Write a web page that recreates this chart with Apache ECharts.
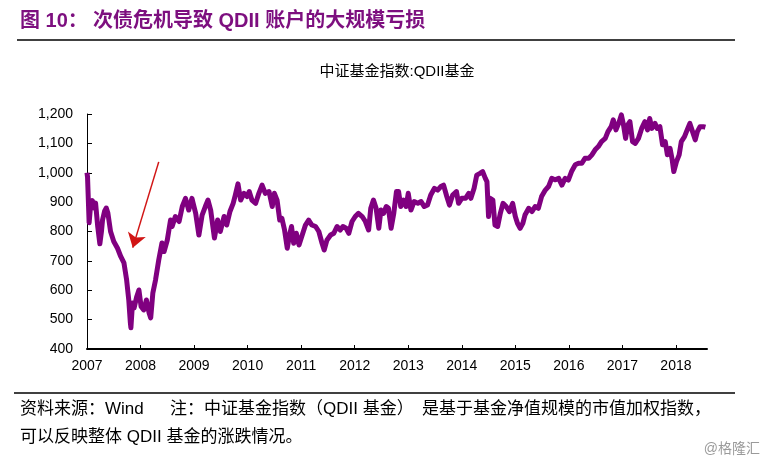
<!DOCTYPE html>
<html>
<head>
<meta charset="utf-8">
<script src="https://cdn.jsdelivr.net/npm/echarts@6/dist/echarts.min.js"></script>
<style>
  html, body { margin: 0; padding: 0; background: #fff; }
  #chart { width: 767px; height: 463px; }
</style>
</head>
<body>
<div id="chart"></div>
<script>
// 时间（年份小数）
var years = [
  2007.00, 2007.01, 2007.04, 2007.07, 2007.10, 2007.13, 2007.16, 2007.20, 2007.24, 2007.27,
  2007.29, 2007.33, 2007.36, 2007.39, 2007.44, 2007.50, 2007.57, 2007.63, 2007.69, 2007.74,
  2007.78, 2007.81, 2007.82, 2007.85, 2007.88, 2007.93, 2007.97, 2008.01, 2008.06, 2008.11,
  2008.16, 2008.19, 2008.23, 2008.28, 2008.34, 2008.40, 2008.44, 2008.50, 2008.56, 2008.59,
  2008.65, 2008.72, 2008.78, 2008.84, 2008.90, 2008.96, 2009.03, 2009.09, 2009.15, 2009.21,
  2009.26, 2009.31, 2009.38, 2009.44, 2009.49, 2009.56, 2009.61, 2009.67, 2009.73, 2009.77,
  2009.82, 2009.87, 2009.93, 2009.99, 2010.03, 2010.08, 2010.15, 2010.21, 2010.27, 2010.33,
  2010.40, 2010.46, 2010.50, 2010.55, 2010.60, 2010.64, 2010.69, 2010.74, 2010.79, 2010.82,
  2010.86, 2010.91, 2010.96, 2011.02, 2011.08, 2011.14, 2011.20, 2011.27, 2011.33, 2011.39,
  2011.43, 2011.48, 2011.55, 2011.61, 2011.67, 2011.73, 2011.78, 2011.84, 2011.89, 2011.95,
  2012.01, 2012.07, 2012.14, 2012.20, 2012.26, 2012.30, 2012.35, 2012.40, 2012.45, 2012.49,
  2012.54, 2012.59, 2012.63, 2012.68, 2012.73, 2012.78, 2012.82, 2012.86, 2012.91, 2012.96,
  2013.00, 2013.05, 2013.11, 2013.18, 2013.24, 2013.30, 2013.36, 2013.42, 2013.49, 2013.55,
  2013.61, 2013.66, 2013.72, 2013.77, 2013.83, 2013.90, 2013.94, 2014.00, 2014.07, 2014.13,
  2014.17, 2014.23, 2014.28, 2014.34, 2014.39, 2014.44, 2014.47, 2014.50, 2014.53, 2014.58,
  2014.62, 2014.67, 2014.72, 2014.77, 2014.83, 2014.89, 2014.95, 2015.00, 2015.04, 2015.09,
  2015.14, 2015.18, 2015.25, 2015.31, 2015.37, 2015.43, 2015.49, 2015.56, 2015.62, 2015.68,
  2015.74, 2015.81, 2015.87, 2015.93, 2015.99, 2016.05, 2016.12, 2016.18, 2016.24, 2016.30,
  2016.37, 2016.43, 2016.49, 2016.55, 2016.61, 2016.68, 2016.73, 2016.79, 2016.83, 2016.88,
  2016.93, 2016.98, 2017.02, 2017.06, 2017.10, 2017.14, 2017.19, 2017.24, 2017.30, 2017.36,
  2017.42, 2017.47, 2017.51, 2017.55, 2017.61, 2017.65, 2017.70, 2017.75, 2017.80, 2017.84,
  2017.89, 2017.93, 2017.96, 2018.01, 2018.06, 2018.10, 2018.16, 2018.21, 2018.26, 2018.31,
  2018.36, 2018.40, 2018.45, 2018.51, 2018.55
];
// 中证基金指数:QDII基金
var qdiiIndex = [
  1000, 985, 830, 895, 905, 880, 897, 817, 758, 800,
  839, 870, 880, 863, 800, 766, 743, 715, 693, 635,
  567, 489, 472, 557, 540, 579, 601, 545, 533, 567,
  523, 506, 591, 635, 703, 761, 732, 771, 839, 817,
  851, 834, 885, 913, 873, 913, 862, 788, 856, 885,
  907, 873, 778, 839, 800, 851, 822, 868, 896, 924,
  962, 907, 930, 919, 936, 907, 896, 930, 958, 930,
  936, 885, 930, 907, 839, 845, 805, 743, 794, 817,
  760, 794, 754, 788, 822, 839, 822, 817, 800, 760,
  737, 770, 788, 794, 817, 805, 817, 811, 794, 834,
  851, 862, 851, 834, 805, 879, 907, 879, 811, 873,
  862, 885, 879, 811, 862, 936, 936, 885, 907, 885,
  930, 873, 902, 896, 902, 885, 890, 924, 947, 941,
  953, 958, 919, 890, 924, 936, 896, 913, 913, 930,
  913, 947, 992, 998, 1004, 981, 970, 851, 913, 907,
  822, 817, 862, 896, 885, 868, 896, 851, 828, 811,
  828, 856, 879, 868, 885, 879, 919, 941, 953, 981,
  976, 981, 958, 981, 975, 1004, 1027, 1032, 1032, 1049,
  1049, 1061, 1078, 1089, 1106, 1117, 1140, 1157, 1180, 1146,
  1168, 1197, 1163, 1117, 1163, 1174, 1106, 1100, 1117, 1151,
  1174, 1146, 1185, 1151, 1168, 1151, 1157, 1095, 1106, 1061,
  1083, 1044, 1004, 1038, 1061, 1106, 1123, 1146, 1168, 1140,
  1112, 1140, 1157, 1157, 1155
];
var yearTicks = [2007, 2008, 2009, 2010, 2011, 2012, 2013, 2014, 2015, 2016, 2017, 2018];
// 红色箭头：起点、终点
var arrowFrom = [2008.34, 1037];
var arrowTo = [2007.855, 745];

var seriesData = years.map(function(y, i) {
  return [y, qdiiIndex[i]];
});

var latinCjk = "'Liberation Sans', Arial, 'Noto Sans CJK SC', sans-serif";

var chart = echarts.init(document.getElementById("chart"));
chart.setOption({
  animation: false,
  backgroundColor: "#fff",
  grid: {
    left: 87,
    right: 60,
    top: 114,
    bottom: 114
  },
  xAxis: {
    type: "value",
    min: 2007,
    max: 2018.58,
    interval: 1,
    axisLine: {
      show: true,
      lineStyle: { color: "#000", width: 2 }
    },
    axisTick: {
      show: true,
      inside: true,
      length: 4,
      customValues: yearTicks,
      lineStyle: { color: "#000", width: 1 }
    },
    axisLabel: {
      customValues: yearTicks,
      margin: 10,
      color: "#000",
      fontSize: 14,
      fontFamily: latinCjk,
      formatter: function(v) {
        return String(v);
      }
    },
    splitLine: { show: false }
  },
  yAxis: {
    type: "value",
    min: 400,
    max: 1200,
    interval: 100,
    axisLine: {
      show: true,
      lineStyle: { color: "#000", width: 1 }
    },
    axisTick: {
      show: true,
      inside: true,
      length: 5,
      lineStyle: { color: "#000" }
    },
    axisLabel: {
      margin: 14,
      color: "#000",
      fontSize: 14,
      fontFamily: latinCjk,
      formatter: function(v) {
        return v.toLocaleString("en-US");
      }
    },
    splitLine: { show: false }
  },
  series: [
    {
      name: "中证基金指数:QDII基金",
      type: "line",
      symbol: "none",
      data: seriesData,
      lineStyle: {
        color: "#800080",
        width: 5,
        join: "round"
      },
      itemStyle: { color: "#800080" },
      markLine: {
        silent: true,
        symbol: ["none", "arrow"],
        symbolSize: 14,
        label: { show: false },
        itemStyle: { color: "#d11515" },
        lineStyle: { color: "#d11515", width: 1.5, type: "solid" },
        data: [
          [
            { coord: arrowFrom },
            { coord: arrowTo }
          ]
        ]
      }
    }
  ],
  graphic: [
    // 标题
    {
      type: "text",
      style: {
        text: "图 10：",
        x: 20, y: 21,
        verticalAlign: "middle",
        fill: "#7d0f7f",
        font: "bold 20px " + latinCjk
      }
    },
    {
      type: "text",
      style: {
        text: "次债危机导致 QDII 账户的大规模亏损",
        x: 93, y: 21,
        verticalAlign: "middle",
        fill: "#7d0f7f",
        font: "bold 20px " + latinCjk
      }
    },
    {
      type: "line",
      shape: { x1: 17, y1: 40, x2: 735, y2: 40 },
      style: { stroke: "#000", lineWidth: 1.5 }
    },
    // 图表名称
    {
      type: "text",
      style: {
        text: "中证基金指数:QDII基金",
        x: 397, y: 72,
        align: "center",
        verticalAlign: "middle",
        fill: "#000",
        font: "15px " + latinCjk
      }
    },
    // 注释
    {
      type: "line",
      shape: { x1: 14, y1: 393, x2: 735, y2: 393 },
      style: { stroke: "#000", lineWidth: 1.5 }
    },
    {
      type: "text",
      style: {
        text: "资料来源：Wind",
        x: 20, y: 409,
        verticalAlign: "middle",
        fill: "#000",
        font: "17px " + latinCjk
      }
    },
    {
      type: "text",
      style: {
        text: "注：中证基金指数（QDII 基金）",
        x: 170, y: 409,
        verticalAlign: "middle",
        fill: "#000",
        font: "17px " + latinCjk
      }
    },
    {
      type: "text",
      style: {
        text: "是基于基金净值规模的市值加权指数，",
        x: 422, y: 409,
        verticalAlign: "middle",
        fill: "#000",
        font: "17px " + latinCjk
      }
    },
    {
      type: "text",
      style: {
        text: "可以反映整体 QDII 基金的涨跌情况。",
        x: 20, y: 437,
        verticalAlign: "middle",
        fill: "#000",
        font: "17px " + latinCjk
      }
    },
    {
      type: "text",
      style: {
        text: "@格隆汇",
        x: 760, y: 449,
        align: "right",
        verticalAlign: "middle",
        fill: "#9a9a9a",
        font: "14px " + latinCjk
      }
    }
  ]
});
</script>
</body>
</html>
